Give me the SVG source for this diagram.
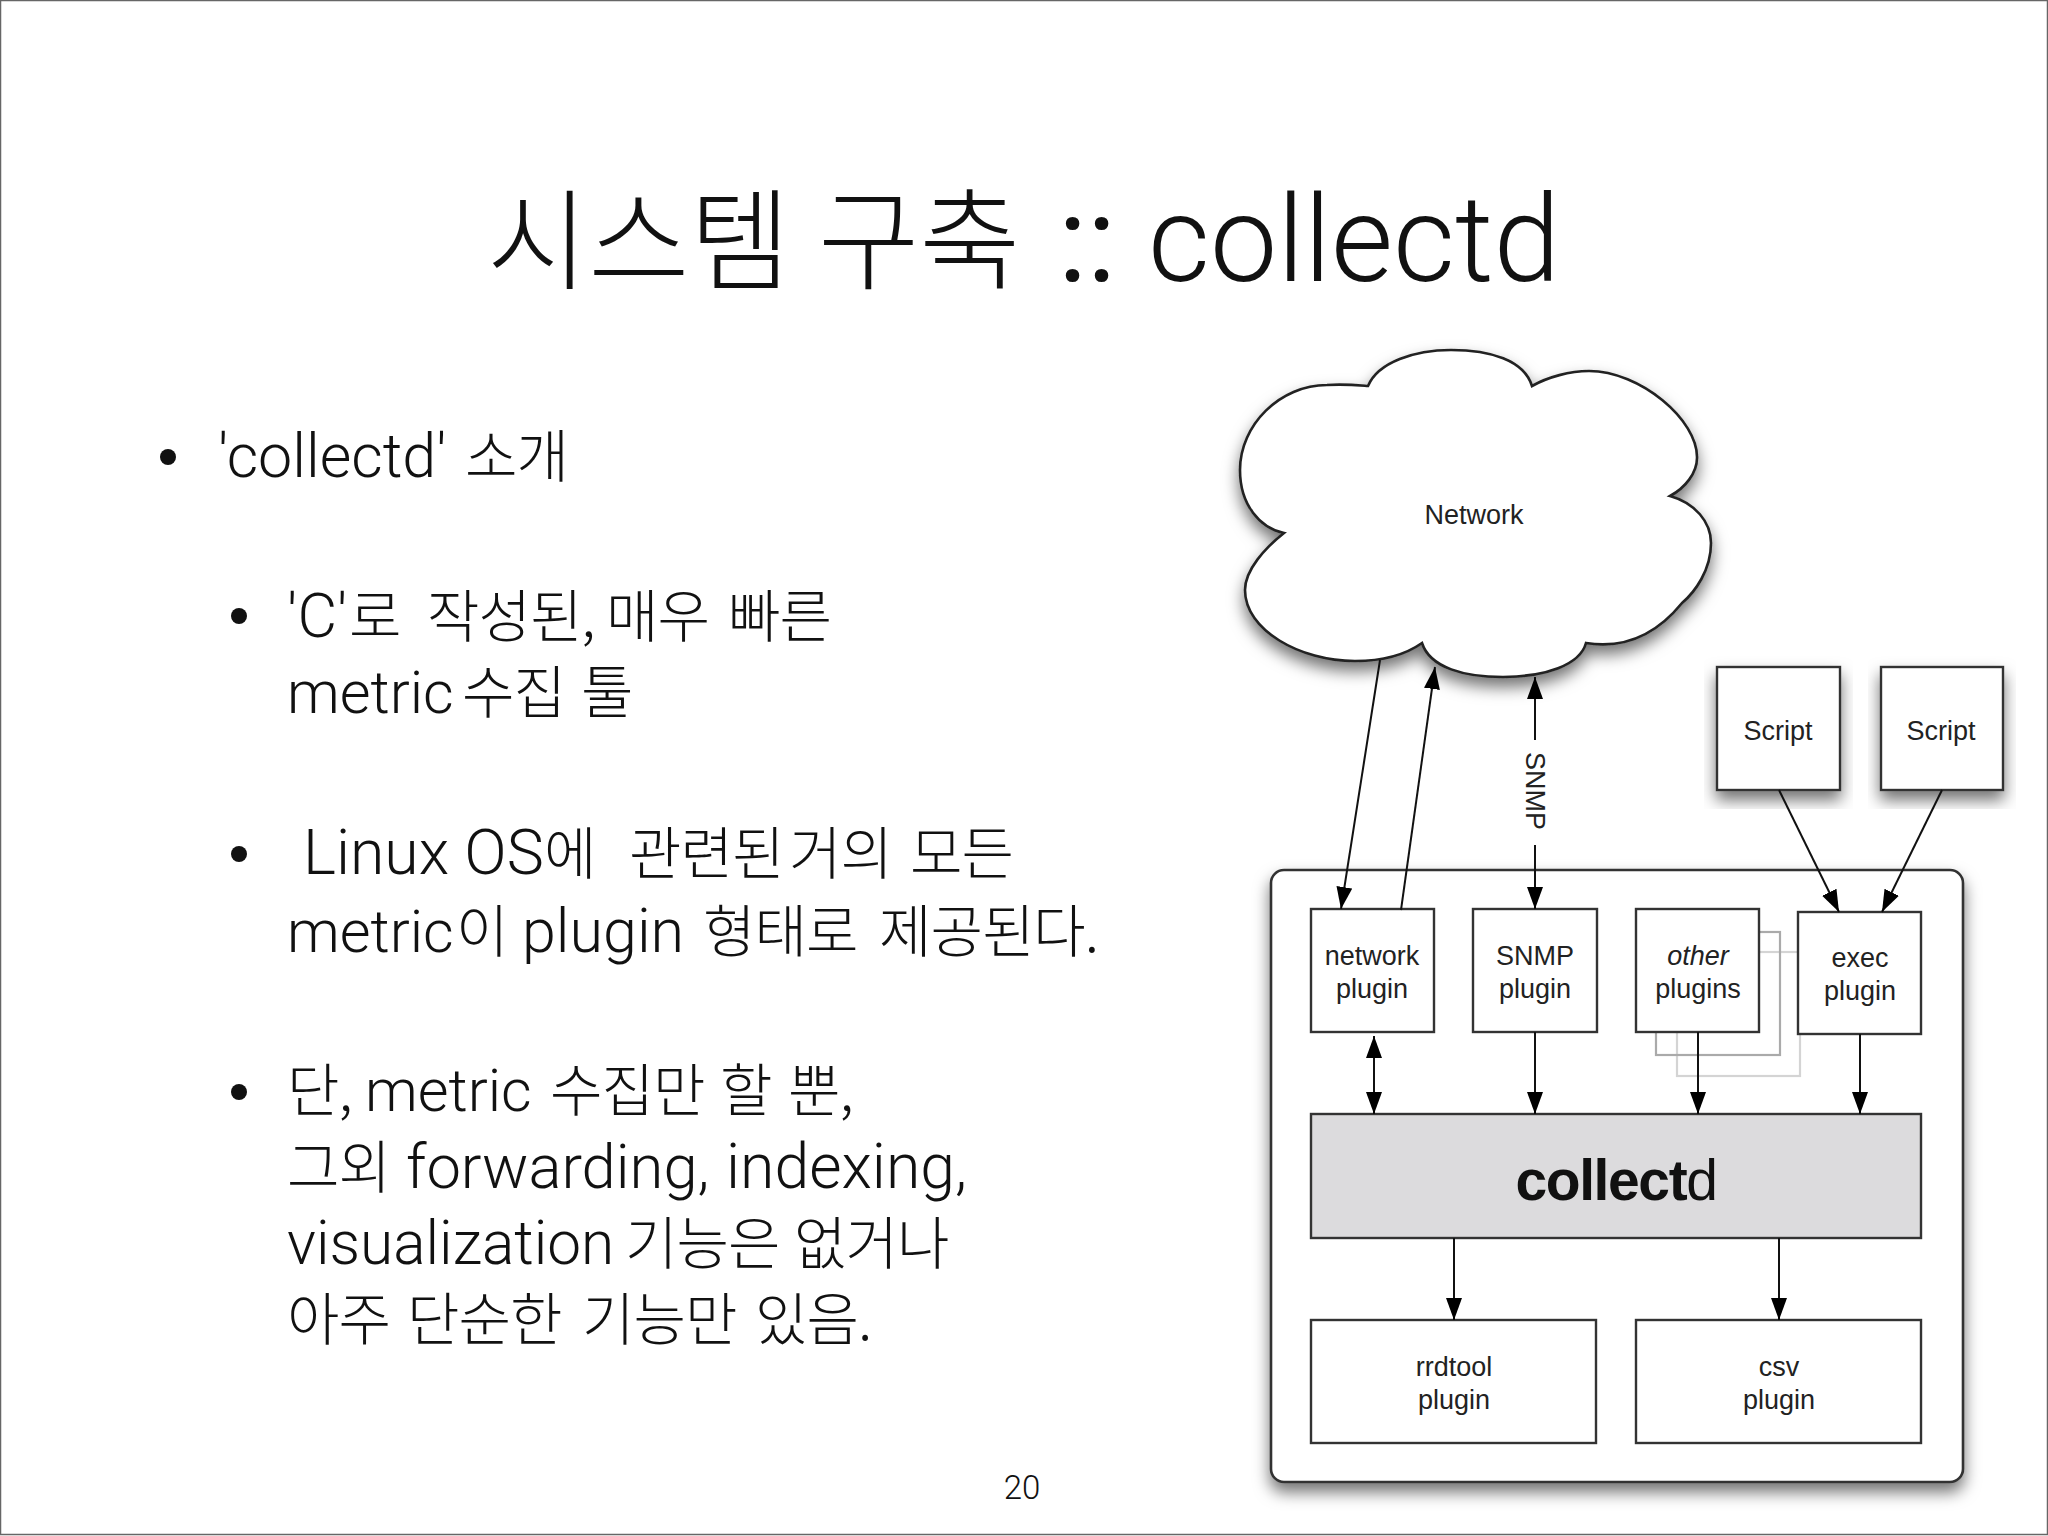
<svg xmlns="http://www.w3.org/2000/svg" width="2048" height="1536" viewBox="0 0 2048 1536">
<style>
.t{font-family:"Roboto","Noto Sans CJK KR",sans-serif;font-weight:300;fill:#111}
.b{font-size:61px}
.m{font-size:59.5px}
.w{font-size:62.5px}
.k{font-family:"Noto Sans CJK KR","Noto Sans CJK SC",sans-serif;font-size:57px;font-weight:300;letter-spacing:-1px}
.kt{font-family:"Noto Sans CJK KR","Noto Sans CJK SC",sans-serif;font-size:110px;font-weight:300}
.l{font-family:"Liberation Sans","Noto Sans CJK KR",sans-serif;font-size:27px;fill:#222;text-anchor:middle}
.box{fill:#fff;stroke:#333;stroke-width:2.4}
.c{fill:none;stroke:#111;stroke-width:2}
.e{marker-end:url(#a)}
.s{marker-start:url(#s)}
.g{fill:none;stroke-width:2.2}
</style>
<defs>
<marker id="a" markerUnits="userSpaceOnUse" markerWidth="22" markerHeight="16" refX="22" refY="8" orient="auto"><path d="M0 0L22 8L0 16Z" fill="#000"/></marker>
<marker id="s" markerUnits="userSpaceOnUse" markerWidth="22" markerHeight="16" refX="0" refY="8" orient="auto"><path d="M22 0L0 8L22 16Z" fill="#000"/></marker>
<filter id="sh" x="-10%" y="-10%" width="120%" height="125%"><feDropShadow dx="0" dy="9" stdDeviation="8" flood-color="#000" flood-opacity="0.55"/></filter>
</defs>
<rect width="2048" height="1536" fill="#fff"/>
<rect x="0.5" y="0.5" width="2047" height="1534" fill="none" stroke="#666" stroke-width="1.5"/>
<g id="slide-text">
<text class="t" y="281" font-size="120"><tspan class="kt" x="487">시스템</tspan><tspan class="kt" x="818">구축</tspan><tspan x="1058" font-weight="400">::</tspan><tspan x="1148">collectd</tspan></text>
<circle cx="168" cy="457" r="8" fill="#111"/>
<text class="t b" y="477"><tspan x="218">'collectd'</tspan><tspan class="k" x="465">소개</tspan></text>
<circle cx="239" cy="616" r="8" fill="#111"/>
<text class="t b" y="637"><tspan x="287">'C'</tspan><tspan class="k" x="349">로</tspan><tspan class="k" x="427">작성된,</tspan><tspan class="k" x="606">매우</tspan><tspan class="k" x="728">빠른</tspan></text>
<text class="t b" y="713"><tspan class="m" x="287">metric</tspan><tspan class="k" x="462">수집</tspan><tspan class="k" x="581">툴</tspan></text>
<circle cx="239" cy="854" r="8" fill="#111"/>
<text class="t b" y="874"><tspan class="w" x="303">Linux OS</tspan><tspan class="k" x="544">에</tspan><tspan class="k" x="629" letter-spacing="-3">관련된</tspan><tspan class="k" x="789">거의</tspan><tspan class="k" x="910">모든</tspan></text>
<text class="t b" y="952"><tspan class="m" x="287">metric</tspan><tspan class="k" x="456">이</tspan><tspan x="522">plugin</tspan><tspan class="k" x="703">형태로</tspan><tspan class="k" x="879">제공된다.</tspan></text>
<circle cx="239" cy="1092" r="8" fill="#111"/>
<text class="t b" y="1111"><tspan class="k" x="287">단,</tspan><tspan class="m" x="365">metric</tspan><tspan class="k" x="550">수집만</tspan><tspan class="k" x="720">할</tspan><tspan class="k" x="788">뿐,</tspan></text>
<text class="t b" y="1188"><tspan class="k" x="287">그외</tspan><tspan x="406" font-size="61.5">forwarding,</tspan><tspan class="w" x="726">indexing,</tspan></text>
<text class="t b" y="1264"><tspan x="287" font-size="60.3">visualization</tspan><tspan class="k" x="625">기능은</tspan><tspan class="k" x="794">없거나</tspan></text>
<text class="t b" y="1340"><tspan class="k" x="287">아주</tspan><tspan class="k" x="407">단순한</tspan><tspan class="k" x="582">기능만</tspan><tspan class="k" x="755">있음.</tspan></text>
<text class="t" x="1022" y="1499" font-size="33" text-anchor="middle">20</text>
</g>
<g id="container"><rect x="1271" y="870" width="692" height="612" rx="13" fill="#fff" stroke="#333" stroke-width="2.6" filter="url(#sh)"/></g>
<g id="cloud"><path filter="url(#sh)" fill="#fff" stroke="#222" stroke-width="2.6" d="M1368 386C1378 362 1415 350 1451 350C1490 350 1524 360 1532 386C1548 377 1570 371 1589 371C1640 371 1698 420 1697 458C1697 473 1685 488 1670 496C1695 503 1711 522 1711 543C1711 570 1695 592 1682 603C1660 630 1630 650 1586 643C1580 665 1545 677 1503 677C1465 677 1430 668 1422 643C1405 655 1385 661 1355 661C1300 661 1245 630 1245 590C1245 570 1265 548 1284 533C1260 528 1240 505 1240 470C1240 425 1280 385 1327 385C1345 384 1355 385 1368 386Z"/><text class="l" x="1474" y="524">Network</text></g>
<g id="script1"><rect class="box" x="1717" y="667" width="123" height="123" filter="url(#sh)"/><text class="l" x="1778" y="740">Script</text></g>
<g id="script2"><rect class="box" x="1881" y="667" width="122" height="123" filter="url(#sh)"/><text class="l" x="1941" y="740">Script</text></g>
<g id="other-stack"><rect class="g" x="1677" y="952" width="123" height="124" stroke="#d4d4d4"/><rect class="g" x="1656" y="932" width="124" height="123" stroke="#aaa"/></g>
<g id="network-plugin"><rect class="box" x="1311" y="909" width="123" height="123"/><text class="l" x="1372" y="965">network</text><text class="l" x="1372" y="998">plugin</text></g>
<g id="snmp-plugin"><rect class="box" x="1473" y="909" width="124" height="123"/><text class="l" x="1535" y="965">SNMP</text><text class="l" x="1535" y="998">plugin</text></g>
<g id="other-plugins"><rect class="box" x="1636" y="909" width="123" height="123"/><text class="l" x="1698" y="965" font-style="italic">other</text><text class="l" x="1698" y="998">plugins</text></g>
<g id="exec-plugin"><rect class="box" x="1798" y="912" width="123" height="122"/><text class="l" x="1860" y="967">exec</text><text class="l" x="1860" y="1000">plugin</text></g>
<g id="collectd"><rect x="1311" y="1114" width="610" height="124" fill="#dcdbdd" stroke="#333" stroke-width="2.4"/><text x="1616" y="1200" text-anchor="middle" font-family="Liberation Sans" font-size="57" font-weight="700" letter-spacing="-1.4" fill="#111">collect<tspan font-weight="400">d</tspan></text></g>
<g id="rrdtool-plugin"><rect class="box" x="1311" y="1320" width="285" height="123"/><text class="l" x="1454" y="1376">rrdtool</text><text class="l" x="1454" y="1409">plugin</text></g>
<g id="csv-plugin"><rect class="box" x="1636" y="1320" width="285" height="123"/><text class="l" x="1779" y="1376">csv</text><text class="l" x="1779" y="1409">plugin</text></g>
<g id="connectors">
<line class="c e" x1="1380" y1="660" x2="1341" y2="909"/>
<line class="c e" x1="1401" y1="910" x2="1435" y2="667"/>
<line class="c s" x1="1535" y1="677" x2="1535" y2="740"/>
<line class="c e" x1="1535" y1="845" x2="1535" y2="909"/>
<text class="l" x="0" y="0" transform="translate(1526 791) rotate(90)">SNMP</text>
<line class="c e" x1="1779" y1="790" x2="1839" y2="912"/>
<line class="c e" x1="1942" y1="790" x2="1882" y2="912"/>
<line class="c e s" x1="1374" y1="1036" x2="1374" y2="1114"/>
<line class="c e" x1="1535" y1="1032" x2="1535" y2="1114"/>
<line class="c e" x1="1698" y1="1032" x2="1698" y2="1114"/>
<line class="c e" x1="1860" y1="1034" x2="1860" y2="1114"/>
<line class="c e" x1="1454" y1="1238" x2="1454" y2="1320"/>
<line class="c e" x1="1779" y1="1238" x2="1779" y2="1320"/>
</g>
</svg>
